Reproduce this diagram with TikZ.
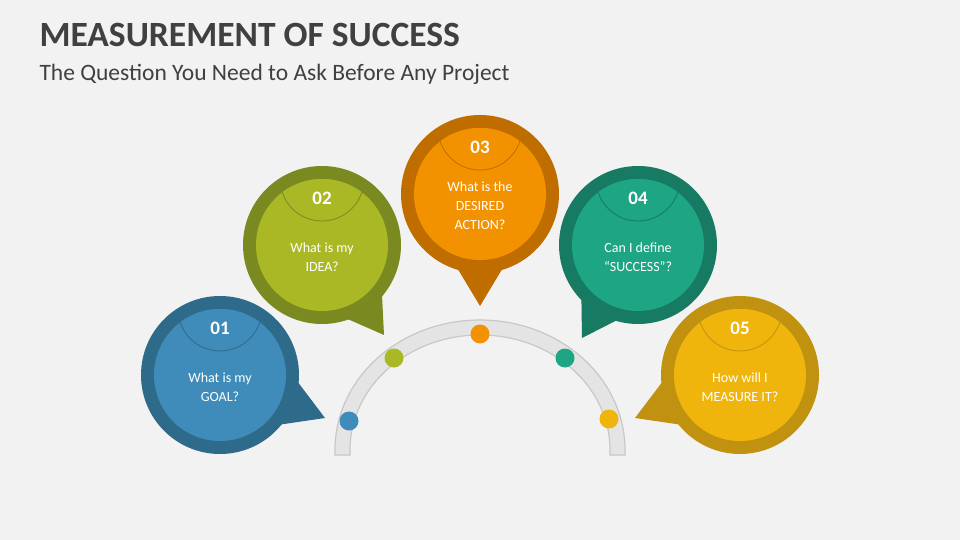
\documentclass[tikz,border=0pt]{standalone}
\usepackage{fontspec}
\setmainfont{Carlito}
\usetikzlibrary{calc}
\definecolor{bg}{RGB}{242,242,242}
\definecolor{band}{RGB}{228,228,228}
\definecolor{bandline}{RGB}{200,200,200}
\definecolor{titlec}{RGB}{64,64,64}
\definecolor{c1}{HTML}{3F8CBA}\definecolor{d1}{HTML}{2E6A89}
\definecolor{c2}{HTML}{A9B824}\definecolor{d2}{HTML}{7B8A20}
\definecolor{c3}{HTML}{F39200}\definecolor{d3}{HTML}{C06D00}
\definecolor{c4}{HTML}{1EA584}\definecolor{d4}{HTML}{177A62}
\definecolor{c5}{HTML}{EFB50C}\definecolor{d5}{HTML}{C09210}
\newcommand{\bub}[8]{% cx cy tipx tipy colidx num text name
  \coordinate (#8c) at (#1,#2);
  \coordinate (#8t) at (#3,#4);
  \fill[d#5] (#8t) -- ($(#8c)!60pt!75:(#8t)$) -- ($(#8c)!60pt!-75:(#8t)$) -- cycle;
  \fill[d#5] (#8c) circle[radius=79];
  \fill[c#5] (#8c) circle[radius=66];
  \begin{scope}
  \clip (#8c) circle[radius=66];
  \draw[d#5,line width=0.8pt,fill=c#5] ($(#8c)+(0,-66)$) circle[radius=42];
  \end{scope}
  \node[ntxt] (#8n) at ($(#8c)+(0,-47)$) {#6};
  \node[qtxt] (#8q) at ($(#8c)+(0,12)$) {#7};
}
\begin{document}
\begin{tikzpicture}[x=1pt,y=-1pt,
  qtxt/.style={text=white,font=\fontsize{14}{19}\selectfont,align=center},
  ntxt/.style={text=white,font=\bfseries\fontsize{19}{19}\selectfont},
  dotst/.style={circle,minimum size=19pt,inner sep=0pt}]
\useasboundingbox[fill=bg] (0,0) rectangle (960,540);
\node[anchor=west,text=titlec,font=\bfseries\fontsize{35.5}{36}\selectfont] (title) at (36,35) {MEASUREMENT OF SUCCESS};
\node[anchor=west,text=titlec,font=\fontsize{23.5}{24}\selectfont] (sub) at (36,74) {The Question You Need to Ask Before Any Project};
% arc band
\filldraw[fill=band,draw=bandline,line width=1.2pt]
  (335,455) -- (335,450) arc[start angle=180,end angle=360,x radius=145,y radius=130] -- (625,455) -- (610,455) -- (610,450)
  arc[start angle=0,end angle=-180,x radius=130,y radius=115] -- (350,455) -- cycle;
\bub{220}{375}{325}{418}{1}{01}{What is my\\GOAL?}{b1}
\bub{322}{245}{384}{335}{2}{02}{What is my\\IDEA?}{b2}
\bub{480}{194}{480}{306}{3}{03}{What is the\\DESIRED\\ACTION?}{b3}
\bub{638}{245}{582}{338}{4}{04}{Can I define\\``SUCCESS''?}{b4}
\bub{740}{375}{635}{418}{5}{05}{How will I\\MEASURE IT?}{b5}
\node[dotst,fill=c1] (p1) at (349,421) {};
\node[dotst,fill=c2] (p2) at (394,358) {};
\node[dotst,fill=c3] (p3) at (480,334) {};
\node[dotst,fill=c4] (p4) at (565,358) {};
\node[dotst,fill=c5] (p5) at (609,419) {};
\end{tikzpicture}
\end{document}
